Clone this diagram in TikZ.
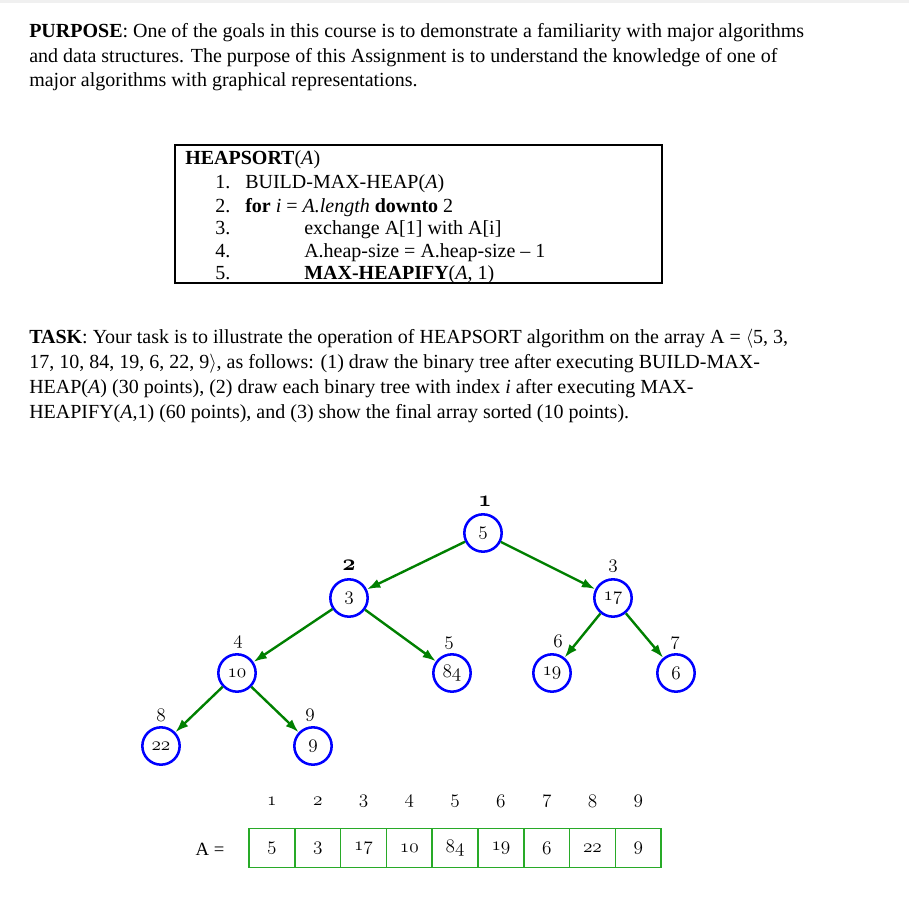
\documentclass[tikz,border=0pt]{standalone}
\usepackage{fontspec}
\setmainfont{Liberation Serif}
\usetikzlibrary{arrows.meta}
\definecolor{nodeblue}{RGB}{0,0,255}
\definecolor{edgegreen}{RGB}{0,128,0}
\definecolor{cellgreen}{RGB}{40,170,40}
\newcommand\onum[1]{{\usefont{OML}{cmm}{m}{it}#1}}
\newcommand\bnum[1]{{\usefont{OML}{cmm}{b}{it}#1}}

\begin{document}
\begin{tikzpicture}[x=0.75pt,y=-0.75pt,
    txt/.style={anchor=base west,inner sep=0pt,font=\fontsize{15}{17}\selectfont},
    keynode/.style={circle,draw=nodeblue,line width=1.9pt,minimum size=28pt,inner sep=0pt,font=\fontsize{15}{15}\selectfont},
    idx/.style={inner sep=0pt,font=\fontsize{15}{15}\selectfont},
    edge/.style={draw=edgegreen,line width=1.8pt,-{Latex[length=10pt,width=7pt]}},
    cell/.style={draw=cellgreen,line width=1.1pt,minimum width=34.35pt,minimum height=29.25pt,inner sep=0pt,font=\fontsize{13.5}{13.5}\selectfont}]
  \useasboundingbox (0,0) rectangle (909,910);
  \fill[black!6] (0,0) rectangle (909,3);

  % purpose
  \node[txt] (p1) at (29,37) {\textbf{PURPOSE}: One of the goals in this course is to demonstrate a familiarity with major algorithms};
  \node[txt] (p2) at (29,62) {and data structures. The purpose of this Assignment is to understand the knowledge of one of};
  \node[txt] (p3) at (29,86) {major algorithms with graphical representations.};

  % pseudocode
  \draw[line width=0.8pt] (175,145) rectangle (662,283);
  \node[txt] (h0) at (185,164) {\textbf{HEAPSORT}(\textit{A})};
  \foreach \i/\y in {1/188,2/212,3/234,4/257,5/279}
    \node[txt] (k\i) at (215,\y) {\i.};
  \node[txt] (c1) at (245,188) {BUILD-MAX-HEAP(\textit{A})};
  \node[txt] (c2) at (245,212) {\textbf{for} \textit{i} = \textit{A.length} \textbf{downto} 2};
  \node[txt] (c3) at (304,234) {exchange A[1] with A[i]};
  \node[txt] (c4) at (304,257) {A.heap-size = A.heap-size -- 1};
  \node[txt] (c5) at (304,279) {\textbf{MAX-HEAPIFY}(\textit{A}, 1)};

  % task
  \node[txt] (t1) at (29,343) {\textbf{TASK}: Your task is to illustrate the operation of HEAPSORT algorithm on the array A = $\langle$5, 3,};
  \node[txt] (t2) at (29,368) {17, 10, 84, 19, 6, 22, 9$\rangle$, as follows: (1) draw the binary tree after executing BUILD-MAX-};
  \node[txt] (t3) at (29,393) {HEAP(\textit{A}) (30 points), (2) draw each binary tree with index \textit{i} after executing MAX-};
  \node[txt] (t4) at (29,418) {HEAPIFY(\textit{A},1) (60 points), and (3) show the final array sorted (10 points).};

  % heap
  \foreach \i/\x/\y/\v in {1/483/533/5, 2/349/598/3, 3/613/598/17, 4/237/673/10,
      5/452/673/84, 6/552/673/19, 7/676/673/6, 8/161/746/22, 9/313/746/9}
    \node[keynode] (n\i) at (\x,\y) {\onum{\v}};
  \node[idx,font=\fontsize{18}{18}\selectfont] (l1) at (485,501) {\bnum{1}};
  \node[idx,font=\fontsize{18}{18}\selectfont] (l2) at (349,565) {\bnum{2}};
  \foreach \i/\x/\y in {3/613/566, 4/238/642, 5/449/643, 6/558/641, 7/675/643, 8/161/715, 9/310/715}
    \node[idx] (l\i) at (\x,\y) {\onum{\i}};
  \foreach \a/\b in {1/2,1/3,2/4,2/5,3/6,3/7,4/8,4/9}
    \draw[edge] (n\a) -- (n\b);

  % array
  \node[font=\fontsize{14}{14}\selectfont] (alab) at (210,849) {A =};
  \foreach \v [count=\i] in {5,3,17,10,84,19,6,22,9} {
    \node[cell] (a\i) at (249+45.8*\i-22.9,848) {\onum{\v}};
    \node[idx,font=\fontsize{13.5}{13.5}\selectfont] (j\i) at (249+45.8*\i-22.9,801) {\onum{\i}};
  }
\end{tikzpicture}
\end{document}
